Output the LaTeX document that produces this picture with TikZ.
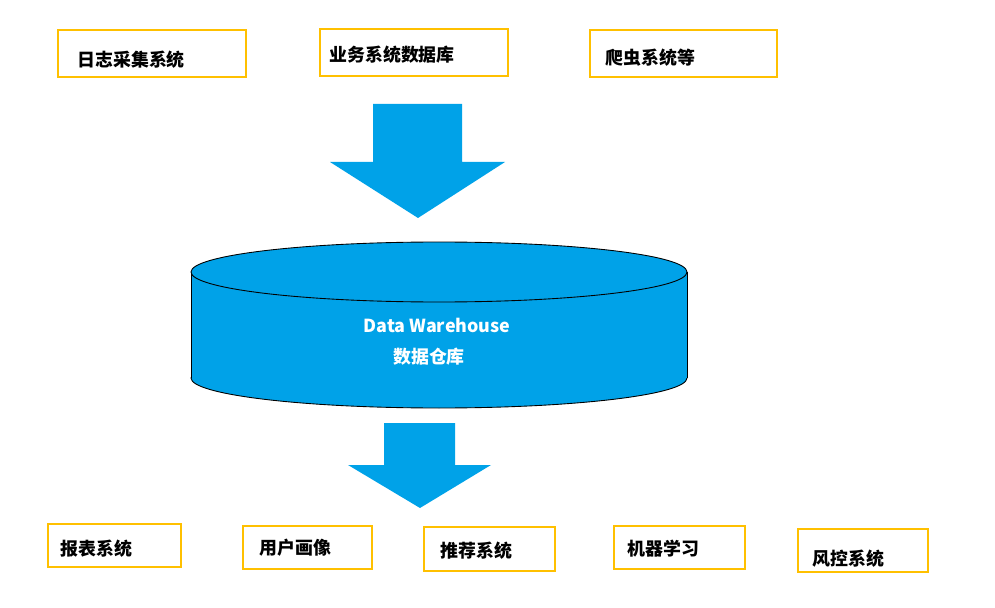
\documentclass[tikz,border=0pt]{standalone}
\usepackage{fontspec}
\setmainfont{Noto Sans CJK SC}
\definecolor{dwblue}{RGB}{0,162,232}
\definecolor{boxgold}{RGB}{255,192,0}
\begin{document}
\begin{tikzpicture}[
        x = 0.02cm, y = -0.02cm,
        box/.style = {
            draw = boxgold,
            line width = 0.6pt,
            inner sep = 0pt,
        },
        lbl/.style = {
            anchor = west,
            inner sep = 0pt,
            font = \fontsize{10.2}{12}\selectfont\bfseries,
        },
        flow/.style = {
            fill = dwblue,
        },
        dw/.style = {
            fill = dwblue,
            draw = black,
            line width = 0.5pt,
        },
    ]
    \useasboundingbox (0,0) rectangle (995,608);

    % sources
    \draw[box] (58,30) rectangle (246,77);
    \node[lbl] (log) at (77,60) {日志采集系统};
    \draw[box] (320,29) rectangle (508,76);
    \node[lbl] (biz) at (329,55) {业务系统数据库};
    \draw[box] (590,30) rectangle (777,77);
    \node[lbl] (spider) at (605,58) {爬虫系统等};

    \fill[flow] (373,104) -- (462,104) -- (462,162) -- (505,162)
        -- (418,218) -- (330,162) -- (373,162) -- cycle;

    % warehouse
    \path[dw] (439,378) ellipse [x radius=248, y radius=30];
    \fill[dwblue] (191,272) rectangle (687,378);
    \draw[line width=0.5pt] (191,272) -- (191,378);
    \draw[line width=0.5pt] (687,272) -- (687,378);
    \path[dw] (439,272) ellipse [x radius=248, y radius=30];
    \node[lbl,anchor=center,text=white] (dwen) at (437,325) {Data Warehouse};
    \node[lbl,anchor=center,text=white] (dwcn) at (429,357) {数据仓库};

    \fill[flow] (384,423) -- (455,423) -- (455,465) -- (491,465)
        -- (420,508) -- (348,465) -- (384,465) -- cycle;

    % applications
    \draw[box] (48,524) rectangle (181,567);
    \node[lbl] (report) at (60,549) {报表系统};
    \draw[box] (243,526) rectangle (372,569);
    \node[lbl] (profile) at (259,548) {用户画像};
    \draw[box] (424,527) rectangle (555,571);
    \node[lbl] (recom) at (440,551) {推荐系统};
    \draw[box] (614,526) rectangle (745,569);
    \node[lbl] (ml) at (627,549) {机器学习};
    \draw[box] (798,529) rectangle (928,572);
    \node[lbl] (risk) at (812,559) {风控系统};
\end{tikzpicture}
\end{document}
